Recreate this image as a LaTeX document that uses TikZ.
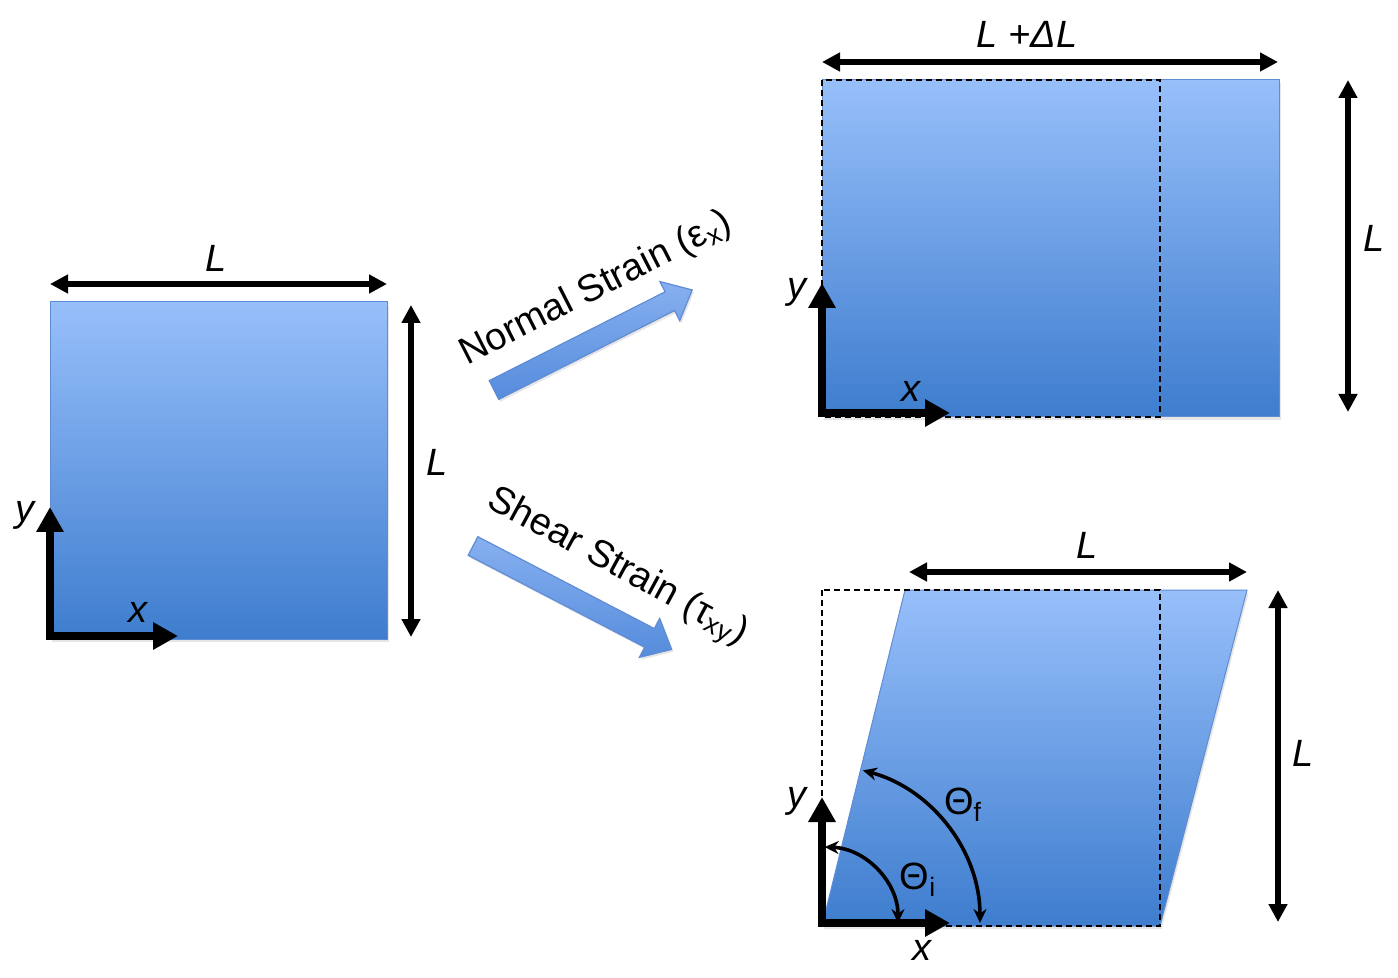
\documentclass[tikz,border=0pt]{standalone}
\usepackage{fontspec}
\setmainfont{Liberation Sans}
\usetikzlibrary{arrows.meta,shadows}

\definecolor{plateTop}{RGB}{151,191,250}
\definecolor{plateBot}{RGB}{62,125,206}
\definecolor{plateEdge}{RGB}{95,140,212}
\definecolor{bArrTop}{RGB}{135,176,240}
\definecolor{bArrBot}{RGB}{85,140,220}

\tikzset{
  plate/.style={top color=plateTop,bottom color=plateBot,draw=plateEdge,line width=0.5pt,
                drop shadow={shadow xshift=0.8pt,shadow yshift=-1.5pt,opacity=0.2}},
  bigarrow/.style={top color=bArrTop,bottom color=bArrBot,draw=plateEdge,line width=0.6pt,
                drop shadow={shadow xshift=0.8pt,shadow yshift=-1.2pt,opacity=0.2}},
  ghost/.style={line width=0.7pt,dash pattern=on 3pt off 2pt},
  axis/.style={line width=3.6pt,{Triangle[length=12.5pt,width=13pt]}-{Triangle[length=12.5pt,width=13pt]}},
  dimen/.style={line width=2.6pt,{Triangle[length=9pt,width=9pt]}-{Triangle[length=9pt,width=9pt]}},
  angarc/.style={line width=1.8pt,{Stealth[length=7pt,width=6.5pt]}-{Stealth[length=7pt,width=6.5pt]}},
  lbl/.style={font=\fontsize{19}{22}\selectfont\itshape,inner sep=0pt},
  txt/.style={font=\fontsize{19}{22}\selectfont,inner sep=0pt}
}

\begin{document}
\begin{tikzpicture}[x=0.5pt,y=-0.5pt]
  \useasboundingbox (0,0) rectangle (1398,978);

  % undeformed square
  \path[plate] (50,302) rectangle (387,639);
  \coordinate (o1) at (50,636);
  \coordinate (y1tip) at (50,507);
  \coordinate (x1tip) at (178,636);
  \draw[axis] (y1tip) -- (o1) -- (x1tip);
  \node[lbl] (y1) at (25,515) {y};
  \node[lbl] (x1) at (138,612) {x};

  \coordinate (w1a) at (50,284);
  \coordinate (w1b) at (387,284);
  \draw[dimen] (w1a) -- (w1b);
  \node[lbl] (Lw1) at (216,258) {L};
  \coordinate (h1a) at (411,305);
  \coordinate (h1b) at (411,637);
  \draw[dimen] (h1a) -- (h1b);
  \node[lbl] (Lh1) at (437,462) {L};

  % block arrows
  \begin{scope}[shift={(494,390)},rotate=26.8]
    \path[bigarrow] (0,-10.5) -- (197,-10.5) -- (197,-22) -- (222,0)
      -- (197,22) -- (197,10.5) -- (0,10.5) -- cycle;
  \end{scope}
  \node[txt,rotate=27] (normal) at (596,289) {Normal Strain (ε\textsubscript{x})};

  \begin{scope}[shift={(473,546)},rotate=-27.5]
    \path[bigarrow] (0,-10.5) -- (199,-10.5) -- (199,-22) -- (224,0)
      -- (199,22) -- (199,10.5) -- (0,10.5) -- cycle;
  \end{scope}
  \node[txt,rotate=-28.5] (shear) at (617,568) {Shear Strain (τ\textsubscript{xy})};

  % normal strain result
  \path[plate] (822,80) rectangle (1279,417);
  \draw[ghost] (822,80) rectangle (1160,417);
  \coordinate (o2) at (822,413);
  \coordinate (y2tip) at (822,283);
  \coordinate (x2tip) at (950,413);
  \draw[axis] (y2tip) -- (o2) -- (x2tip);
  \node[lbl] (y2) at (797,292) {y};
  \node[lbl] (x2) at (911,391) {x};

  \coordinate (w2a) at (822,62);
  \coordinate (w2b) at (1278,62);
  \draw[dimen] (w2a) -- (w2b);
  \node[lbl] (Lw2) at (1027,34) {L +ΔL};
  \coordinate (h2a) at (1348,80);
  \coordinate (h2b) at (1348,412);
  \draw[dimen] (h2a) -- (h2b);
  \node[lbl] (Lh2) at (1374,238) {L};

  % shear strain result
  \path[plate] (822,926) -- (905,590) -- (1247,590) -- (1160,926) -- cycle;
  \draw[ghost] (822,590) rectangle (1160,926);
  \coordinate (o3) at (822,923);
  \coordinate (y3tip) at (822,797);
  \coordinate (x3tip) at (950,923);
  \draw[axis] (y3tip) -- (o3) -- (x3tip);
  \node[lbl] (y3) at (797,801) {y};
  \node[lbl] (x3) at (922,950) {x};

  \draw[angarc] ([xshift=38pt]o3) arc[start angle=0,end angle=-88,radius=76];
  \draw[angarc] ([xshift=79pt]o3) arc[start angle=0,end angle=-75,radius=158];
  \node[txt] (thi) at (918,880) {Θ\textsubscript{i}};
  \node[txt] (thf) at (963,805) {Θ\textsubscript{f}};

  \coordinate (w3a) at (909,572);
  \coordinate (w3b) at (1247,572);
  \draw[dimen] (w3a) -- (w3b);
  \node[lbl] (Lw3) at (1087,545) {L};
  \coordinate (h3a) at (1278,590);
  \coordinate (h3b) at (1278,922);
  \draw[dimen] (h3a) -- (h3b);
  \node[lbl] (Lh3) at (1303,753) {L};
\end{tikzpicture}
\end{document}
